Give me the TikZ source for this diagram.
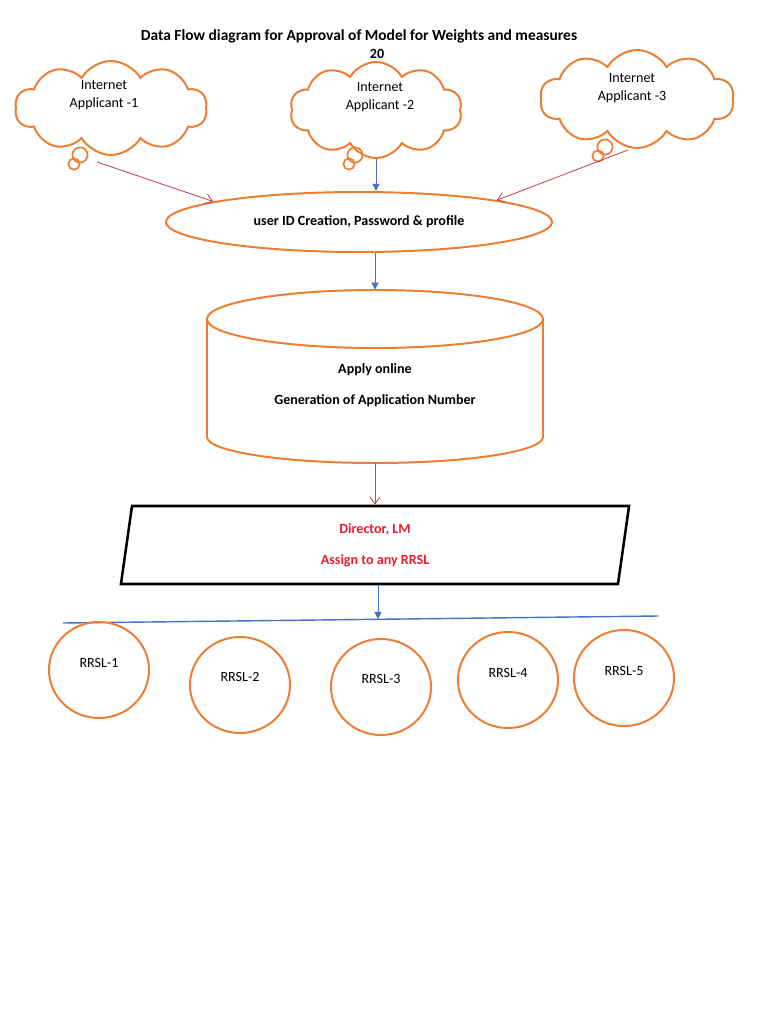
\documentclass[tikz,border=0pt]{standalone}
\usepackage{fontspec}
\setmainfont{Carlito}
\usetikzlibrary{shapes.symbols,shapes.geometric,arrows.meta}
\definecolor{dfdorange}{RGB}{237,125,49}
\definecolor{dfdblue}{RGB}{68,114,196}
\definecolor{dfdmaroon}{RGB}{192,70,90}
\definecolor{dfdred}{RGB}{230,30,50}

\tikzset{
  cloudbox/.style={cloud, cloud puffs=10, cloud puff arc=120, cloud ignores aspect,
                   draw=dfdorange, line width=1.4pt, inner sep=0pt},
  bubble/.style={circle, draw=dfdorange, line width=1.2pt, inner sep=0pt},
  orangeline/.style={draw=dfdorange, line width=1.4pt},
  redarrow/.style={dfdmaroon, line width=0.6pt, -{Straight Barb[length=5pt,width=7pt]}},
  bluearrow/.style={dfdblue, line width=0.6pt, -{Triangle[length=5pt,width=5pt]}},
  txt/.style={font=\fontsize{10}{12}\selectfont\bfseries, align=center},
}

\begin{document}
\begin{tikzpicture}[x=0.025cm,y=-0.025cm]
    \useasboundingbox (0,0) rectangle (768,1024);
    % title
    \node[txt, font=\fontsize{11}{13}\selectfont\bfseries] (title) at (359,36)
      {Data Flow diagram for Approval of Model for Weights and measures};
    \node[txt] (year) at (377,54) {20};

    % applicants
    \node[cloudbox, minimum width=4.8cm, minimum height=2.35cm] (c1) at (111,108) {};
    \node[cloudbox, minimum width=4.3cm, minimum height=2.4cm] (c2) at (376,110) {};
    \node[cloudbox, minimum width=4.85cm, minimum height=2.45cm] (c3) at (637,99) {};
    \node[txt, font=\fontsize{10}{13}\selectfont] (c1txt) at (104,95) {Internet\\Applicant -1};
    \node[txt, font=\fontsize{10}{13}\selectfont] (c2txt) at (380,97) {Internet\\Applicant -2};
    \node[txt, font=\fontsize{10}{13}\selectfont] (c3txt) at (632,88) {Internet\\Applicant -3};
    \node[bubble, minimum size=0.38cm] (b1a) at (80,155) {};
    \node[bubble, minimum size=0.28cm] (b1b) at (74,164) {};
    \node[bubble, minimum size=0.38cm] (b2a) at (355,155) {};
    \node[bubble, minimum size=0.28cm] (b2b) at (349,164) {};
    \node[bubble, minimum size=0.38cm] (b3a) at (605,147) {};
    \node[bubble, minimum size=0.28cm] (b3b) at (598,156) {};

    % login
    \node[ellipse, orangeline, txt, minimum width=9.65cm, minimum height=1.5cm,
          inner sep=0pt] (usr) at (359,222) {user ID Creation, Password \& profile};

    % database
    \node[minimum width=8.4cm, minimum height=4.33cm, inner sep=0pt] (db) at (375,376.5) {};
    \draw[orangeline] (375,319) ellipse [x radius=168, y radius=29];
    \draw[orangeline] (207,319) -- (207,437) arc[start angle=180, end angle=0,
          x radius=168, y radius=26] -- (543,319);
    \node[txt, font=\fontsize{10}{22}\selectfont\bfseries] (dbtxt) at (375,385)
      {Apply online\\Generation of Application Number};

    % director
    \node[trapezium, trapezium left angle=75.6, trapezium right angle=104.4,
          trapezium stretches body, draw=black, line width=1.8pt,
          minimum width=12.7cm, minimum height=1.95cm, inner sep=0pt,
          txt, font=\fontsize{10}{22}\selectfont\bfseries, text=dfdred] (dir) at (375,545)
      {Director, LM\\Assign to any RRSL};

    % bus line
    \coordinate (busL) at (63,623);
    \coordinate (busR) at (658,616);
    \coordinate (hit) at (378,619);
    \draw[dfdblue, line width=1pt] (busL) -- (busR);

    % labs
    \foreach \i/\cx/\cy/\ty in {1/99/670/663, 2/240/685/677, 3/381/687/679,
                                4/508/680/673, 5/624/678/671} {
      \node[ellipse, orangeline, minimum width=2.5cm, minimum height=2.4cm,
            inner sep=0pt] (lab\i) at (\cx,\cy) {};
      \node[font=\fontsize{10}{12}\selectfont] (lab\i txt) at (\cx,\ty) {RRSL-\i};
    }

    % flows
    \coordinate (s1) at (97,162);
    \coordinate (s3) at (628,150);
    \draw[redarrow] (s1) -- (usr.172);
    \draw[bluearrow] (c2.south) -- (c2.south |- usr.north);
    \draw[redarrow] (s3) -- (usr.9);
    \draw[bluearrow] (db.north |- usr.south) -- (db.north);
    \draw[redarrow] (db.south) -- (db.south |- dir.north);
    \draw[bluearrow] (hit |- dir.south) -- (hit);
  \end{tikzpicture}
\end{document}
